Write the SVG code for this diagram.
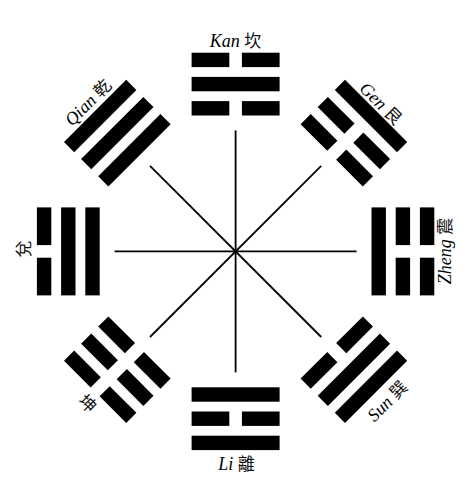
<svg xmlns="http://www.w3.org/2000/svg" xmlns:xlink="http://www.w3.org/1999/xlink" width="474" height="494" viewBox="0 0 474 494">
<style>
.bar{fill:#000}
.ax{stroke:#000;stroke-width:1.8;fill:none;stroke-linecap:butt}
.lbl{font-family:"Liberation Serif","DejaVu Serif",serif;font-style:italic;font-size:18px;fill:#000}
.cjk{font-family:"Noto Sans CJK TC","Noto Sans CJK SC",sans-serif;font-style:normal;font-size:17px;fill:#111}
</style>
<defs>
<rect id="solid" class="bar" x="-44" y="-7.2" width="88" height="14.4"/>
<g id="broken" class="bar"><rect x="-44" y="-7.2" width="37.7" height="14.4"/><rect x="6.3" y="-7.2" width="37.7" height="14.4"/></g>
</defs>
<rect width="474" height="494" fill="#fff"/>
<g id="connectors">
<line class="ax" x1="235.6" y1="130.4" x2="235.6" y2="372.4"/>
<line class="ax" x1="114.6" y1="251.4" x2="356.6" y2="251.4"/>
<line class="ax" x1="150" y1="165.8" x2="321.2" y2="337"/>
<line class="ax" x1="321.2" y1="165.8" x2="150" y2="337"/>
</g>
<g id="kan" transform="translate(235.6,251.4) rotate(0)">
<use xlink:href="#broken" y="-191.5"/><use xlink:href="#solid" y="-167.3"/><use xlink:href="#broken" y="-143.1"/>
</g>
<g id="gen" transform="translate(235.6,251.4) rotate(45)">
<use xlink:href="#solid" y="-191.5"/><use xlink:href="#broken" y="-167.3"/><use xlink:href="#broken" y="-143.1"/>
</g>
<g id="zhen" transform="translate(235.6,251.4) rotate(90)">
<use xlink:href="#broken" y="-191.5"/><use xlink:href="#broken" y="-167.3"/><use xlink:href="#solid" y="-143.1"/>
</g>
<g id="sun" transform="translate(235.6,251.4) rotate(135)">
<use xlink:href="#solid" y="-191.5"/><use xlink:href="#solid" y="-167.3"/><use xlink:href="#broken" y="-143.1"/>
</g>
<g id="li" transform="translate(235.6,251.4) rotate(180)">
<use xlink:href="#solid" y="-191.5"/><use xlink:href="#broken" y="-167.3"/><use xlink:href="#solid" y="-143.1"/>
</g>
<g id="kun" transform="translate(235.6,251.4) rotate(225)">
<use xlink:href="#broken" y="-191.5"/><use xlink:href="#broken" y="-167.3"/><use xlink:href="#broken" y="-143.1"/>
</g>
<g id="dui" transform="translate(235.6,251.4) rotate(270)">
<use xlink:href="#broken" y="-191.5"/><use xlink:href="#solid" y="-167.3"/><use xlink:href="#solid" y="-143.1"/>
</g>
<g id="qian" transform="translate(235.6,251.4) rotate(315)">
<use xlink:href="#solid" y="-191.5"/><use xlink:href="#solid" y="-167.3"/><use xlink:href="#solid" y="-143.1"/>
</g>
<g id="labels" text-anchor="middle">
<text class="lbl" transform="translate(235.5,40.8)" y="6">Kan <tspan class="cjk">坎</tspan></text>
<text class="lbl" transform="translate(381,103.5) rotate(45)" y="6">Gen <tspan class="cjk">艮</tspan></text>
<text class="lbl" transform="translate(445,251) rotate(-90)" y="6">Zheng <tspan class="cjk">震</tspan></text>
<text class="lbl" transform="translate(387.5,401) rotate(-45)" y="6">Sun <tspan class="cjk">巽</tspan></text>
<text class="lbl" transform="translate(236.5,463.5)" y="6">Li <tspan class="cjk">離</tspan></text>
<text class="cjk" transform="translate(87.5,403.5) rotate(45)" y="6">坤</text>
<text class="cjk" transform="translate(24,249) rotate(-90)" y="6">兌</text>
<text class="lbl" transform="translate(88,102.5) rotate(-45)" y="6">Qian <tspan class="cjk">乾</tspan></text>
</g>
</svg>
